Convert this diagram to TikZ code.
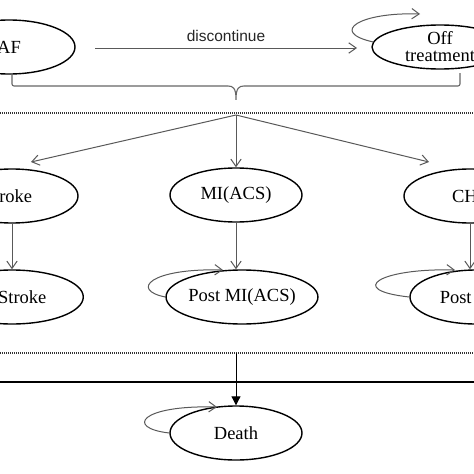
\documentclass[tikz,border=0pt]{standalone}
\usepackage{fontspec}
\setmainfont{Liberation Serif}
\newfontfamily\lsans{Liberation Sans}
\usetikzlibrary{shapes.geometric,arrows.meta}
\begin{document}
\begin{tikzpicture}[x=1pt,y=-1pt,
  state/.style={draw=black,line width=1.4pt,ellipse,minimum width=132pt,minimum height=54pt,inner sep=0pt,font=\fontsize{18.5}{19}\selectfont,align=center},
  conn/.style={draw=black!65,line width=1pt,-{Straight Barb[angle=70:9pt,line width=1pt]}},
  loopc/.style={draw=black!65,line width=1pt,-{Straight Barb[angle=70:9pt,line width=1pt]}},
  dotl/.style={draw=black!80,line width=1.4pt,dash pattern=on 1pt off 1pt},
  bracket/.style={draw=black!60,line width=1.1pt,rounded corners=2pt}]
\useasboundingbox (0,0) rectangle (474,474);
\fill[white] (0,0) rectangle (474,474);
% nodes
\node[state] (af) at (9,47) {AF};
\node[state,minimum height=44pt,minimum width=136pt] (off) at (440,47) {Off\\[-2pt]treatment};
\node[state] (stroke) at (12,196) {\hspace*{-8pt}Stroke};
\node[state] (mi) at (236,195) {MI(ACS)};
\node[state] (chf) at (470,196) {CHF};
\node[state] (pstroke) at (12,297) {Post Stroke\hspace*{16pt}};
\node[state] (pmi) at (242,297) {Post MI(ACS)};
\node[state] (pchf) at (476,297) {Post CHF};
\node[state] (death) at (236,433) {Death};
% discontinue
\coordinate (dA) at (95,48);
\coordinate (dB) at (357,48);
\draw[conn] (dA) -- node[above=3pt,font=\lsans\fontsize{15.5}{16}\selectfont,text=black!85] {discontinue} (dB);
% bracket
\coordinate (bl) at (12,73);
\coordinate (br) at (460,73);
\coordinate (btip) at (236,101);
\draw[bracket] (bl) -- (12,86) -- (226,86) .. controls (233,86) and (236,88) .. (btip)
  .. controls (236,88) and (239,86) .. (246,86) -- (460,86) -- (br);
% dotted lines
\draw[dotl] (0,113) -- (474,113);
\draw[dotl] (0,353) -- (474,353);
% fan out
\coordinate (hub) at (236,115);
\coordinate (tS) at (31,162);
\coordinate (tC) at (429,162);
\draw[conn] (hub) -- (tS);
\draw[conn] (hub) -- (mi);
\draw[conn] (hub) -- (tC);
% down arrows
\draw[conn] (stroke.south) -- (pstroke.north);
\draw[conn] (mi) -- (pmi.north -| mi);
\draw[conn] (chf.south) -- (pchf.north -| chf.south);
% self loops
\coordinate (lo) at (420,14);
\draw[loopc] (off.west) ++(2,-5) .. controls +(-45,-10) and (360,12) .. (lo);
\coordinate (lmi) at (223,270);
\draw[loopc] (pmi.west) .. controls (130,290) and (150,268) .. (lmi);
\coordinate (lchf) at (455,270);
\draw[loopc] (pchf.west) .. controls (345,290) and (380,268) .. (lchf);
\coordinate (ld) at (217,407);
\draw[loopc] (death.west) .. controls (125,428) and (140,405) .. (ld);
% death arrow
\coordinate (dtop) at (236,353);
\draw[line width=2pt,black] (0,382) -- (474,382);
\draw[black,line width=1pt,-{Triangle[length=9pt,width=9pt]}] (dtop) -- (death.north);
\end{tikzpicture}
\end{document}
